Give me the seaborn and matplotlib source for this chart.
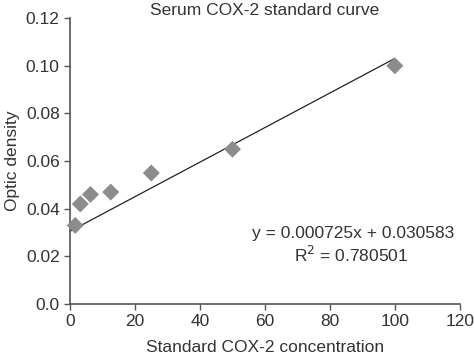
import matplotlib
matplotlib.use('Agg')
import matplotlib.pyplot as plt
import seaborn as sns
import numpy as np
import pandas as pd

# standard curve readings
concentration = [1.5625, 3.125, 6.25, 12.5, 25, 50, 100]
optic_density = [0.033, 0.042, 0.046, 0.047, 0.055, 0.065, 0.100]
slope = 0.000725
intercept = 0.030583
r_squared = 0.780501

x_ticks = [0, 20, 40, 60, 80, 100, 120]
y_ticks = [0.0, 0.02, 0.04, 0.06, 0.08, 0.10, 0.12]
y_tick_labels = ['0.0', '0.02', '0.04', '0.06', '0.08', '0.10', '0.12']

sns.set_style('ticks')
plt.rcParams['font.family'] = ['Liberation Sans', 'DejaVu Sans']

df = pd.DataFrame({'conc': concentration, 'od': optic_density})

fig = plt.figure(figsize=(4.74, 3.56), dpi=100)
ax = fig.add_axes([0.148, 0.146, 0.822, 0.803])

sns.scatterplot(data=df, x='conc', y='od', marker='D', s=75, color='#8c8c8c',
                edgecolor='none', ax=ax, clip_on=False, zorder=3)

# trend line from fitted equation
fit_x = np.array([0, max(concentration)])
ax.plot(fit_x, slope * fit_x + intercept, color='#222222', lw=0.9, zorder=2)

ax.set_xlim(0, 120)
ax.set_ylim(0, 0.12)
ax.set_xticks(x_ticks)
ax.set_yticks(y_ticks)
ax.set_yticklabels(y_tick_labels)
ax.tick_params(labelsize=12.5, colors='#333333', length=4.5, width=1, color='#555555', pad=3)
for s in ['left', 'bottom']:
    ax.spines[s].set_color('#555555')
    ax.spines[s].set_linewidth(1.2)
sns.despine(ax=ax)

ax.set_xlabel('Standard COX-2 concentration', fontsize=12.5, color='#333333', labelpad=7.5)
ax.set_ylabel('Optic density', fontsize=12.5, color='#333333', labelpad=4)
ax.set_title('Serum COX-2 standard curve', fontsize=12.5, color='#333333', pad=2.5)

ax.text(0.987, 0.245, f'y = {slope:.6f}x + {intercept:.6f}', transform=ax.transAxes,
        ha='right', va='center', fontsize=12.5, color='#333333')
ax.text(0.867, 0.17, f'R$^2$ = {r_squared:.6f}', transform=ax.transAxes,
        ha='right', va='center', fontsize=12.5, color='#333333')

fig.savefig('out.png', dpi=100)
